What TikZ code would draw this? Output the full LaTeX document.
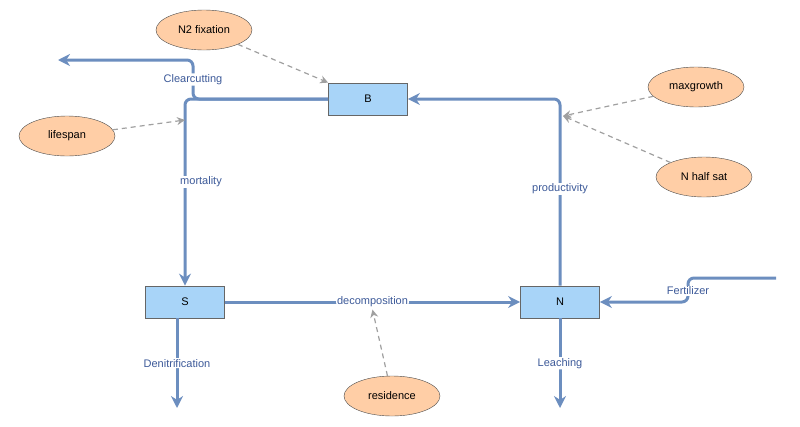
\documentclass[tikz,border=0pt]{standalone}
\usepackage{fontspec}
\setmainfont{Liberation Sans}
\usepackage{xcolor}
\usetikzlibrary{positioning,arrows.meta,calc,shapes.geometric}

\definecolor{flowblue}{HTML}{6C8EBF}
\definecolor{labelblue}{HTML}{3D5A99}
\definecolor{stockfill}{HTML}{A8D4F8}
\definecolor{paramfill}{HTML}{FFCEA6}
\definecolor{linkgray}{HTML}{A0A0A0}

\begin{document}
\begin{tikzpicture}[
      x=1pt, y=-1pt,
      font=\fontsize{11}{13}\selectfont,
      stock/.style={rectangle, draw=black!60, thick, fill=stockfill, minimum width=79pt, minimum height=32pt, inner sep=0pt},
      param/.style={ellipse, draw=black!70, fill=paramfill, minimum width=96pt, minimum height=40pt, inner sep=0pt},
      flow/.style={line width=3pt, draw=flowblue, rounded corners=6pt, -{Stealth[length=12pt,width=12pt]}},
      flowlabel/.style={fill=white, text=labelblue, inner sep=1pt},
      link/.style={draw=linkgray, line width=1.2pt, dash pattern=on 5pt off 4pt, -{Stealth[length=8pt,width=8pt]}},
    ]
    \useasboundingbox (0,0) rectangle (800,426);

    % Stocks
    \node[stock] (B) at (368,99) {B};
    \node[stock] (S) at (185,302) {S};
    \node[stock] (N) at (560,302) {N};

    % Parameters
    \node[param] (fix) at (204,30) {N2 fixation};
    \node[param] (life) at (67,136) {lifespan};
    \node[param] (maxg) at (696,87) {maxgrowth};
    \node[param] (halfsat) at (704,177) {N half sat};
    \node[param] (res) at (392,396) {residence};

    % Free ends of the flows
    \coordinate (cutout) at (58,60);
    \coordinate (fertin) at (776,278);
    \coordinate (denout) at (177,408);
    \coordinate (leachout) at (560,408);

    % Flows
    \draw[flow] (B.west) -- (193,99) |- (cutout)
      node[flowlabel, pos=0.25] (cutlabel) {Clearcutting};
    \draw[flow] (B.west) -| (S.north);
    \node[flowlabel] (mortlabel) at (201,182) {mortality};
    \draw[flow] (N.north) |- (B.east);
    \node[flowlabel] (prodlabel) at (560,189) {productivity};
    \draw[flow] (S.east) -- (N.west)
      node[flowlabel, midway] (decomp) {decomposition};
    \draw[flow] (denout |- S.south) -- (denout)
      node[flowlabel, midway] (denlabel) {Denitrification};
    \draw[flow] (N.south) -- (leachout)
      node[flowlabel, midway] (leachlabel) {Leaching};
    \draw[flow] (fertin) -- (688,278) |- (N.east);
    \node[flowlabel] (fertlabel) at (688,291) {Fertilizer};

    % Influences
    \draw[link] (fix) -- (B.north west);
    \draw[link] (life) -- (185,120);
    \foreach \p in {maxg,halfsat} {
      \draw[link] (\p) -- (563,116);
    }
    \draw[link] (res) -- (decomp.south);
  \end{tikzpicture}
\end{document}
